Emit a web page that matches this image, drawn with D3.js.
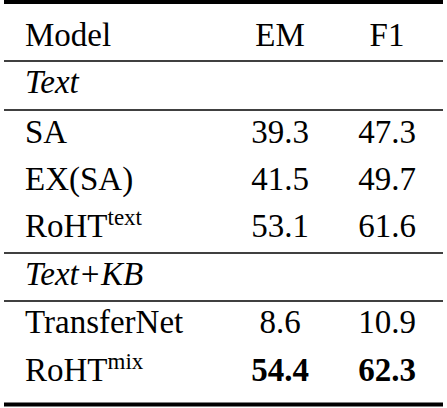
<!DOCTYPE html>
<html>
<head>
<meta charset="UTF-8">
<script src="https://d3js.org/d3.v7.min.js"></script>
<style>
  body { margin: 0; background: #fff; }
  svg text { font-family: 'Liberation Serif', 'Times New Roman', Tinos, Times, 'DejaVu Serif', serif; font-size: 33px; fill: #000; }
</style>
</head>
<body>
<svg id="chart" width="447" height="408"></svg>
<script>
const columns = ['Model', 'EM', 'F1'];
const groups = ['Text', 'Text+KB'];
const models = [
  { base: 'SA', sup: '', group: 'Text' },
  { base: 'EX(SA)', sup: '', group: 'Text' },
  { base: 'RoHT', sup: 'text', group: 'Text' },
  { base: 'TransferNet', sup: '', group: 'Text+KB' },
  { base: 'RoHT', sup: 'mix', group: 'Text+KB' }
];
const em = [39.3, 41.5, 53.1, 8.6, 54.4];
const f1 = [47.3, 49.7, 61.6, 10.9, 62.3];
const best = [false, false, false, false, true];

const svg = d3.select('#chart');
const colX = { Model: 25, EM: 280, F1: 387 };

// row baselines: header, group, 3 rows, group, 2 rows
const rowBase = [46, 93, 143, 190, 237, 285, 333, 381];
const y = d3.scaleOrdinal().domain(d3.range(rowBase.length)).range(rowBase);

function rule(yy, w) {
  svg.append('line').attr('x1', 4).attr('x2', 443).attr('y1', yy).attr('y2', yy)
    .attr('stroke', '#000').attr('stroke-width', w);
}
rule(2, 4);
rule(61, 1.5);
rule(110, 1.5);
rule(253, 1.5);
rule(301, 1.5);
rule(404.5, 4);

const serif = "'Liberation Serif', 'Times New Roman', Tinos, Times, 'DejaVu Serif', serif";

function txt(x, yy) {
  return svg.append('text').attr('x', x).attr('y', yy).attr('font-family', serif).style('font-family', serif);
}

columns.forEach(c => {
  txt(colX[c], y(0)).attr('text-anchor', c === 'Model' ? 'start' : 'middle').text(c);
});

let r = 1;
groups.forEach(g => {
  txt(colX.Model, y(r)).style('font-style', 'italic').text(g);
  r++;
  models.forEach((m, i) => {
    if (m.group !== g) return;
    const t = txt(colX.Model, y(r));
    t.append('tspan').text(m.base);
    if (m.sup) t.append('tspan').attr('dy', -12).style('font-size', '23px').text(m.sup);
    txt(colX.EM, y(r)).attr('text-anchor', 'middle')
      .style('font-weight', best[i] ? 'bold' : 'normal').text(em[i].toFixed(1));
    txt(colX.F1, y(r)).attr('text-anchor', 'middle')
      .style('font-weight', best[i] ? 'bold' : 'normal').text(f1[i].toFixed(1));
    r++;
  });
});
</script>
</body>
</html>
